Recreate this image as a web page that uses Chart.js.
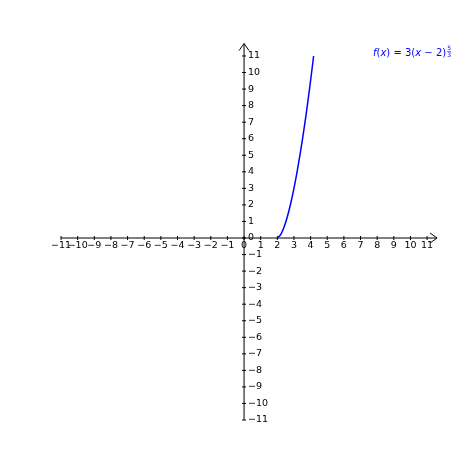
<!DOCTYPE html><html><head><style>html,body{margin:0;background:#fff}</style>
<script src="https://cdn.jsdelivr.net/npm/chart.js@4"></script></head><body>
<div style="width:474px;height:474px"><canvas id="c"></canvas></div>
<script>
const xValues=[2,2.2,2.4,2.6,2.8,3.0,3.2,3.4,3.6,3.8,4.0,4.18];
const yValues=[0,0.21,0.65,1.28,2.07,3.0,4.07,5.26,6.57,7.99,9.52,11.0];
const tickValues=[-11,-10,-9,-8,-7,-6,-5,-4,-3,-2,-1,0,1,2,3,4,5,6,7,8,9,10,11];
const lab=v=>v<0?'\u2212'+(-v):String(v);
const axes={id:'axes',beforeDatasetsDraw(ch){
 const c=ch.ctx,xs=ch.scales.x,ys=ch.scales.y;
 const x0=xs.getPixelForValue(0),y0=ys.getPixelForValue(0);
 c.save();c.strokeStyle='#000';c.fillStyle='#000';c.lineWidth=1;
 const L=xs.getPixelForValue(-11),R=xs.getPixelForValue(11.6),T=ys.getPixelForValue(11.75),B=ys.getPixelForValue(-11);
 c.beginPath();c.moveTo(L,y0);c.lineTo(R,y0);c.moveTo(x0,B);c.lineTo(x0,T);
 c.moveTo(R-7,y0-5);c.lineTo(R,y0);c.lineTo(R-7,y0+5);
 c.moveTo(x0-5,T+7);c.lineTo(x0,T);c.lineTo(x0+5,T+7);c.stroke();
 c.font='9.5px "DejaVu Sans"';
 tickValues.forEach(v=>{const px=xs.getPixelForValue(v),py=ys.getPixelForValue(v);
  c.beginPath();c.moveTo(px,y0-2);c.lineTo(px,y0+2);c.moveTo(x0-2,py);c.lineTo(x0+2,py);c.stroke();
  c.textAlign='center';c.textBaseline='top';c.fillText(lab(v),px,y0+3);
  c.textAlign='left';c.textBaseline='middle';c.fillText(lab(v),x0+4,py);});
 c.fillStyle='#0000ff';c.textBaseline='alphabetic';c.textAlign='left';
 let x=373,y=56;c.font='italic 10px "DejaVu Sans"';c.fillText('f',x,y);x+=c.measureText('f').width;
 c.font='10px "DejaVu Sans"';const s='(x) = 3(x \u2212 2)';
 const parts=[['(',0],['x',1],[') = 3(',0],['x',1],[' \u2212 2)',0]];
 parts.forEach(([t,it])=>{c.font=(it?'italic ':'')+'10px "DejaVu Sans"';c.fillText(t,x,y);x+=c.measureText(t).width;});
 c.font='6px "DejaVu Sans"';c.textAlign='center';c.fillText('5',x+3,y-6);c.fillText('3',x+3,y+1);
 c.fillRect(x+1,y-4.5,4,0.6);
 c.restore();}};
new Chart(document.getElementById('c'),{type:'scatter',
 data:{datasets:[{data:xValues.map((x,i)=>({x,y:yValues[i]})),showLine:true,borderColor:'#0000ff',borderWidth:1.5,pointRadius:0,tension:0.4}]},
 options:{responsive:true,maintainAspectRatio:false,animation:false,
  layout:{padding:{left:52.7,right:38.6,top:47.7,bottom:45.7}},
  plugins:{legend:{display:false},tooltip:{enabled:false}},
  scales:{x:{type:'linear',min:-11.5,max:11.5,display:false},y:{type:'linear',min:-11.5,max:11.5,display:false}}},
 plugins:[axes]});
</script></body></html>
